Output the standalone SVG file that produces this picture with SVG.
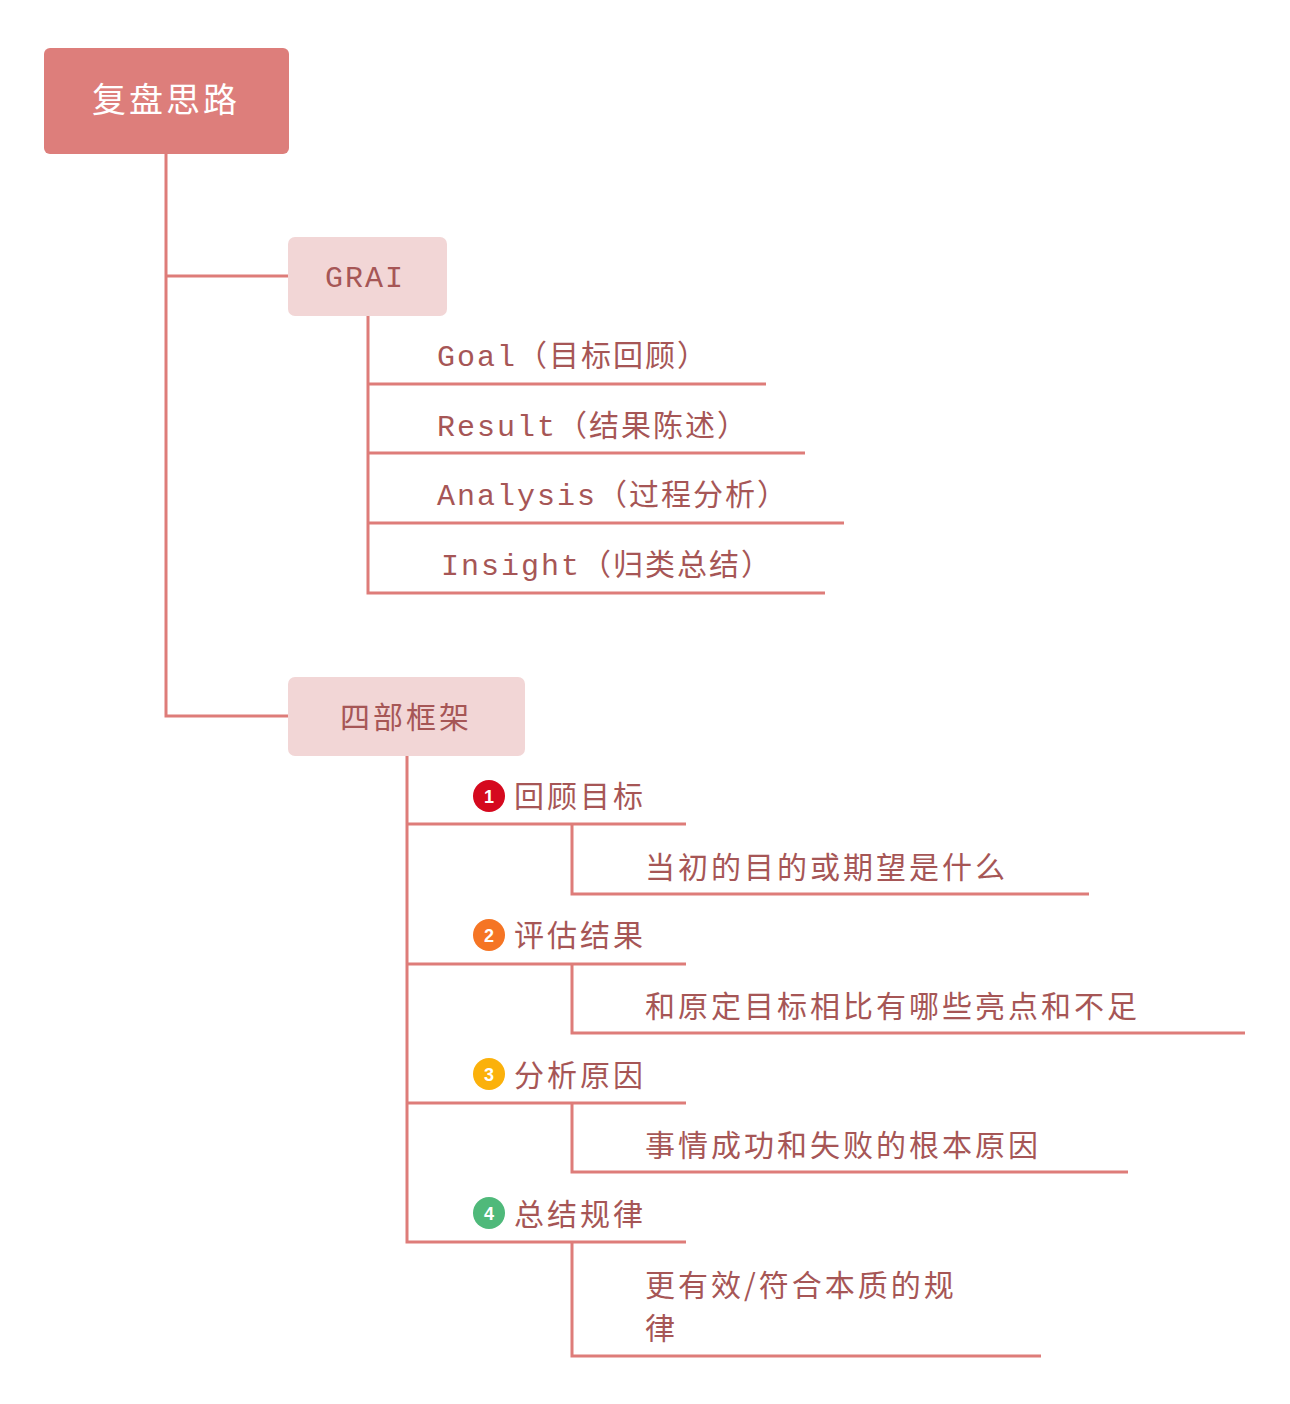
<svg xmlns="http://www.w3.org/2000/svg" width="1290" height="1404" viewBox="0 0 1290 1404">
<style>
.ln{stroke:#de7c79;stroke-width:3;fill:none}
.t{font-family:"Liberation Mono","Noto Sans CJK SC",monospace;font-size:30px;fill:#a65656;letter-spacing:2px}
.c{font-family:"Noto Sans CJK SC",sans-serif;font-size:30px;fill:#a65656;letter-spacing:3px}
.n{font-family:"Liberation Sans",sans-serif;font-size:18px;font-weight:bold;fill:#fff;text-anchor:middle}
</style>
<rect width="1290" height="1404" fill="#fff"/>
<g id="connectors">
<path class="ln" d="M166 153V716H288M166 276H288"/>
<path class="ln" d="M368 316V593H825M368 384H766M368 453H805M368 523H844"/>
<path class="ln" d="M407 756V1242H686M407 824H686M407 964H686M407 1103H686"/>
<path class="ln" d="M572 824V894H1089M572 964V1033H1245M572 1103V1172H1128M572 1242V1356H1041"/>
</g>
<g id="root"><rect x="44" y="48" width="245" height="106" rx="6" fill="#dd7e7b"/><text x="166" y="112" text-anchor="middle" font-family="Noto Sans CJK SC,sans-serif" font-size="34" fill="#fff" letter-spacing="3">复盘思路</text></g>
<g id="grai"><rect x="288" y="237" width="159" height="79" rx="7" fill="#f2d6d6"/><text x="365" y="287" text-anchor="middle" class="t">GRAI</text></g>
<g id="goal"><text x="437" y="366" class="t">Goal（目标回顾）</text></g>
<g id="result"><text x="437" y="436" class="t">Result（结果陈述）</text></g>
<g id="analysis"><text x="437" y="505" class="t">Analysis（过程分析）</text></g>
<g id="insight"><text x="441" y="575" class="t">Insight（归类总结）</text></g>
<g id="four"><rect x="288" y="677" width="237" height="79" rx="7" fill="#f2d6d6"/><text x="406" y="728" text-anchor="middle" class="c">四部框架</text></g>
<g id="s1"><circle cx="489" cy="796" r="16" fill="#d5091e"/><text x="489" y="803" class="n">1</text><text x="514" y="807" class="c">回顾目标</text></g>
<g id="s1d"><text x="645" y="878" class="c">当初的目的或期望是什么</text></g>
<g id="s2"><circle cx="489" cy="935" r="16" fill="#f57524"/><text x="489" y="942" class="n">2</text><text x="514" y="946" class="c">评估结果</text></g>
<g id="s2d"><text x="645" y="1017" class="c">和原定目标相比有哪些亮点和不足</text></g>
<g id="s3"><circle cx="489" cy="1074" r="16" fill="#fbb10b"/><text x="489" y="1081" class="n">3</text><text x="514" y="1086" class="c">分析原因</text></g>
<g id="s3d"><text x="645" y="1156" class="c">事情成功和失败的根本原因</text></g>
<g id="s4"><circle cx="489" cy="1213" r="16" fill="#4fb97a"/><text x="489" y="1220" class="n">4</text><text x="514" y="1225" class="c">总结规律</text></g>
<g id="s4d"><text x="645" y="1296" class="c">更有效/符合本质的规</text><text x="645" y="1339" class="c">律</text></g>
</svg>
